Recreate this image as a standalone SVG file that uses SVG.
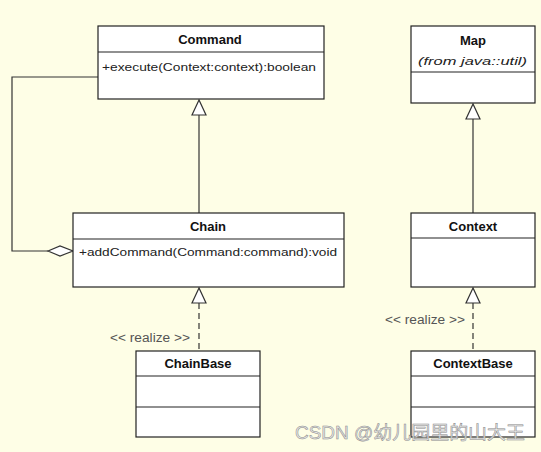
<svg xmlns="http://www.w3.org/2000/svg" width="541" height="452" viewBox="0 0 541 452">
<style>
.box{fill:#fff;stroke:#222;stroke-width:1.2}
.div{stroke:#222;stroke-width:1.2}
.ln{fill:none;stroke:#333;stroke-width:1.2}
.dash{fill:none;stroke:#333;stroke-width:1.2;stroke-dasharray:6,4}
.tri{fill:#fff;stroke:#333;stroke-width:1.2}
.name{font-family:"Liberation Sans",Arial,sans-serif;font-size:13px;font-weight:bold;fill:#111;text-anchor:middle}
.op{font-family:"Liberation Sans",Arial,sans-serif;font-size:11.5px;fill:#222}
.st{font-family:"Liberation Sans",Arial,sans-serif;font-size:12px;fill:#555}
</style>
<rect width="541" height="452" fill="#fefee6"/>
<g id="connectors">
<polyline class="ln" points="98,77 12,77 12,251 48,251"/>
<polygon class="tri" points="48,251 60,246 73,251 60,256"/>
<line class="ln" x1="199" y1="115" x2="199" y2="213"/>
<polygon class="tri" points="199,100 192,115 206,115"/>
<line class="dash" x1="199" y1="303" x2="199" y2="351"/>
<polygon class="tri" points="199,288 192,303 206,303"/>
<text class="st" x="110" y="342" textLength="80" lengthAdjust="spacingAndGlyphs">&lt;&lt; realize &gt;&gt;</text>
<line class="ln" x1="473" y1="119" x2="473" y2="213"/>
<polygon class="tri" points="473,104 466,119 480,119"/>
<line class="dash" x1="473" y1="303" x2="473" y2="351"/>
<polygon class="tri" points="473,288 466,303 480,303"/>
<text class="st" x="385" y="324" textLength="80" lengthAdjust="spacingAndGlyphs">&lt;&lt; realize &gt;&gt;</text>
</g>
<g id="Command">
<rect class="box" x="98" y="26" width="226" height="73"/>
<line class="div" x1="98" y1="52" x2="324" y2="52"/>
<text class="name" x="210" y="44">Command</text>
<text class="op" x="102" y="71" textLength="214" lengthAdjust="spacingAndGlyphs">+execute(Context:context):boolean</text>
</g>
<g id="Chain">
<rect class="box" x="73" y="213" width="271" height="74"/>
<line class="div" x1="73" y1="239" x2="344" y2="239"/>
<text class="name" x="208" y="231">Chain</text>
<text class="op" x="79" y="256" textLength="258" lengthAdjust="spacingAndGlyphs">+addCommand(Command:command):void</text>
</g>
<g id="ChainBase">
<rect class="box" x="136" y="351" width="124" height="86"/>
<line class="div" x1="136" y1="376" x2="260" y2="376"/>
<line class="div" x1="136" y1="407" x2="260" y2="407"/>
<text class="name" x="198" y="368">ChainBase</text>
</g>
<g id="Map">
<rect class="box" x="411" y="26" width="124" height="77"/>
<line class="div" x1="411" y1="72" x2="535" y2="72"/>
<text class="name" x="473" y="45">Map</text>
<text class="op" x="418" y="65" font-style="italic" font-size="12" textLength="109" lengthAdjust="spacingAndGlyphs">(from java::util)</text>
</g>
<g id="Context">
<rect class="box" x="411" y="213" width="124" height="74"/>
<line class="div" x1="411" y1="238" x2="535" y2="238"/>
<text class="name" x="473" y="231">Context</text>
</g>
<g id="ContextBase">
<rect class="box" x="411" y="351" width="124" height="86"/>
<line class="div" x1="411" y1="376" x2="535" y2="376"/>
<line class="div" x1="411" y1="407" x2="535" y2="407"/>
<text class="name" x="473" y="368">ContextBase</text>
</g>
<text x="295" y="439" font-family="'Liberation Sans','Noto Sans CJK SC',sans-serif" font-size="18" fill="#e8e8e8" stroke="#8a8a8a" stroke-width="0.5" textLength="230" lengthAdjust="spacingAndGlyphs">CSDN @幼儿园里的山大王</text>
</svg>
